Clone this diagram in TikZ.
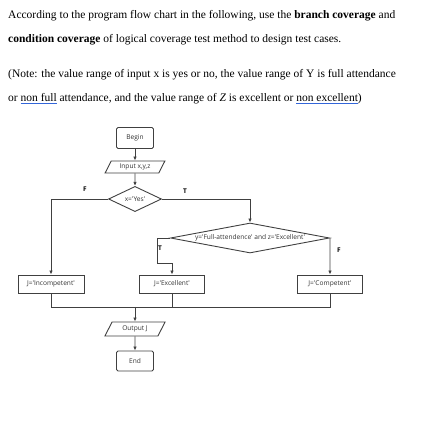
\documentclass[tikz,border=0pt]{standalone}
\usepackage{fontspec}
\setmainfont{Liberation Serif}
\newfontfamily\flowfont{Open Sans}
\usetikzlibrary{shapes.geometric,arrows.meta,positioning,calc}
\definecolor{linegray}{rgb}{0.25,0.25,0.25}
\definecolor{ulblue}{rgb}{0.2,0.4,0.85}
\newcommand{\blueul}[1]{\textcolor{ulblue}{\underline{\textcolor{black}{#1}}}}
\tikzset{
	para/.style={anchor=base west, inner sep=0pt, font=\fontsize{11.5}{13}\selectfont},
	flow/.style={
		draw=linegray, line width=0.9pt, inner sep=1pt,
		font=\flowfont\fontsize{6.6}{8}\selectfont, text=black!80
	},
	terminal/.style={flow, rectangle, rounded corners=1.5pt,
		minimum width=37pt, minimum height=21pt},
	io/.style={flow, trapezium, trapezium left angle=63,
		trapezium right angle=117, minimum width=56pt, minimum height=12pt},
	process/.style={flow, rectangle, minimum width=65pt, minimum height=18pt},
	decision/.style={flow, diamond, inner sep=0pt},
	lbl/.style={inner sep=0pt, font=\flowfont\bfseries\fontsize{6.5}{7}\selectfont},
	line/.style={draw=linegray, line width=0.9pt},
	arr/.style={line, -{Latex[length=4pt,width=3.5pt]}}
}
\begin{document}
\begin{tikzpicture}[x=1pt,y=-1pt]
	\useasboundingbox (0,0) rectangle (439,438);
	% question
	\node[para] (q1) at (8,19) {According to the program flow chart in the following, use the \textbf{branch coverage} and};
	\node[para] (q2) at (8,43) {\textbf{condition coverage} of logical coverage test method to design test cases.};
	\node[para] (q3) at (8,78) {(Note: the value range of input x is yes or no, the value range of Y is full attendance};
	\node[para] (q4) at (8,102) {or \blueul{non full} attendance, and the value range of \textit{Z} is excellent or \blueul{non excellent})};
	% flow chart
	\node[terminal] (begin) at (135,138) {Begin};
	\node[io] (input) at (135,167) {Input x,y,z};
	\node[decision, minimum width=53pt, minimum height=20pt] (dx) at (135,199) {x='Yes'};
	\node[decision, shape aspect=5.3, inner xsep=-10pt, minimum width=159pt, minimum height=30pt] (dyz) at (250,238) {y='Full-attendence' and z='Excellent'};
	\node[process, minimum width=66pt] (inc) at (51,284) {J='Incompetent'};
	\node[process] (exc) at (172,284) {J='Excellent'};
	\node[process] (comp) at (330,284) {J='Competent'};
	\node[io, minimum height=14pt] (output) at (135,329) {Output J};
	\node[terminal, minimum height=20pt] (end) at (135,361) {End};
	\coordinate (tbend) at (157,263);
	\coordinate (join) at (135,307);
	\node[lbl] (fx) at (85,189) {F};
	\node[lbl] (tx) at (185,191) {T};
	\node[lbl] (tyz) at (160,248) {T};
	\node[lbl] (fyz) at (339,250) {F};
	% connectors
	\draw[arr] (begin) -- (input);
	\draw[arr] (input) -- (dx);
	\draw[arr] (dx.west) -| (inc.north);
	\draw[arr] (dx.east) -| (dyz.north);
	\draw[arr] (dyz.west) -| (tbend) -| (exc.north);
	\draw[arr] (dyz.east) -- (comp.north);
	\draw[line] (inc.south) |- (join);
	\draw[line] (comp.south) |- (join);
	\draw[line] (exc.south) -- (exc.south |- join);
	\draw[arr] (join) -- (output);
	\draw[arr] (output) -- (end);
\end{tikzpicture}
\end{document}
